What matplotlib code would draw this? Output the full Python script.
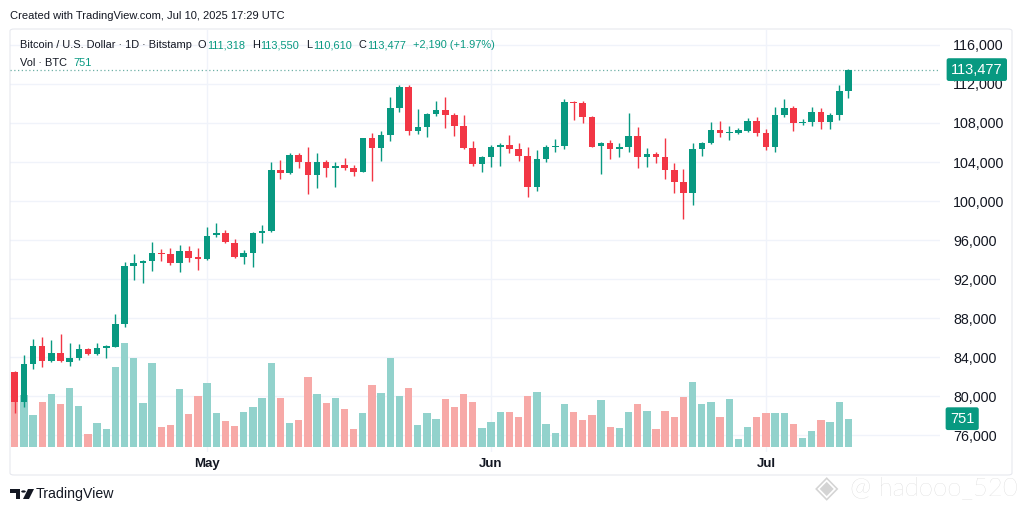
import matplotlib
matplotlib.use('Agg')
import matplotlib.pyplot as plt
import matplotlib.dates as mdates
import numpy as np
import pandas as pd
from matplotlib.transforms import blended_transform_factory as btf
from matplotlib.patches import FancyBboxPatch, Circle, Polygon

plt.rcParams['font.family'] = ['Liberation Sans', 'DejaVu Sans']

# ---------------- data (BTC/USD daily, Bitstamp) ----------------
start_date = '2025-04-10'
opens = [82490, 79420, 83280, 85130, 83620, 84440, 83520, 83930, 84790, 84310,
         84950, 85060, 87385, 93335, 93610, 93875, 94700, 94565, 93675, 94840,
         94200, 94020, 96480, 96750, 95725, 94225, 94640, 96690, 96925, 103180,
         102840, 104720, 103970, 102635, 103970, 103420, 103690, 103420, 103010, 106430,
         105465, 106770, 109510, 111660, 107180, 107620, 108920, 109330, 108820, 107690,
         105405, 103795, 104480, 105570, 105745, 105305, 104615, 101405, 104275, 105510,
         105640, 110185, 110050, 108585, 105640, 105980, 105370, 105510, 106665, 104480,
         104790, 104545, 103180, 101980, 100850, 105300, 105980, 107280, 107005, 107005,
         107210, 108235, 107005, 105510, 108820, 109510, 107970, 108130, 109100, 108130,
         108820, 111318]
highs = [82590, 84205, 85815, 86020, 85745, 86360, 85410, 85335, 84890, 85410,
         85200, 88380, 93775, 94565, 94000, 95800, 95110, 95150, 95485, 95360,
         95150, 97365, 97775, 97060, 96070, 94975, 96860, 97540, 104035, 104205,
         104890, 104890, 105570, 104890, 104205, 104035, 104440, 103700, 106500, 107005,
         107180, 110635, 111900, 111900, 109405, 109000, 110285, 110635, 109030, 108820,
         106185, 104600, 105745, 105900, 106770, 105915, 105570, 105230, 105700, 106330,
         110430, 110290, 110290, 108720, 106080, 106255, 106000, 108995, 107620, 105405,
         105060, 106430, 103870, 103250, 105980, 106100, 108130, 108235, 107690, 107450,
         108480, 108650, 107350, 109670, 110430, 109700, 108400, 109610, 109510, 109000,
         111900, 113550]
lows = [78290, 78905, 82740, 82945, 83500, 83450, 83080, 83740, 84200, 84200,
        83870, 85000, 87045, 91900, 91620, 92850, 93875, 93470, 92750, 93775,
        92925, 93900, 96300, 95700, 94120, 93510, 93265, 95725, 96800, 102230,
        102780, 103355, 100720, 101305, 102490, 101405, 103180, 102565, 102950, 102050,
        104135, 106155, 109160, 106770, 106840, 106595, 108720, 107455, 106665, 105300,
        103590, 103005, 103520, 103590, 104890, 104135, 100380, 101055, 104035, 105060,
        105300, 108310, 108030, 105500, 102770, 104275, 104480, 105060, 103355, 103460,
        103870, 102230, 100850, 98125, 99590, 104615, 105850, 106535, 106255, 106850,
        107100, 106665, 105230, 105060, 108585, 107210, 107800, 107690, 107350, 107350,
        108310, 110610]
closes = [79420, 83280, 85130, 83590, 84440, 83550, 83930, 84790, 84310, 84890,
          85130, 87355, 93335, 93610, 93875, 94640, 94550, 93675, 94905, 94150,
          94100, 96410, 96750, 95795, 94225, 94640, 96690, 96925, 103180, 102840,
          104720, 103970, 102635, 103970, 103420, 103620, 103355, 103010, 106430, 105465,
          106770, 109510, 111660, 107180, 107620, 108920, 109330, 108820, 107690, 105405,
          103795, 104480, 105570, 105745, 105335, 104615, 101470, 104275, 105510, 105640,
          110185, 110050, 108585, 105570, 105980, 105300, 105510, 106665, 104480, 104790,
          104545, 103180, 101980, 100850, 105300, 105980, 107280, 106940, 107110, 107280,
          108235, 107005, 105570, 108820, 109510, 107970, 108130, 109100, 108130, 108820,
          111287, 113477]
volumes = [1520, 1385, 850, 1206, 1404, 1144, 1565, 1099, 332, 643,
           474, 2144, 2787, 2369, 1179, 2243, 520, 582, 1546, 876,
           1367, 1715, 911, 697, 563, 938, 1056, 1313, 2251, 1313,
           627, 716, 1876, 1412, 1163, 1313, 1002, 474, 911, 1654,
           1439, 2385, 1359, 1565, 582, 911, 742, 1286, 1072, 1412,
           1206, 493, 654, 938, 938, 796, 1359, 1458, 608, 367,
           1144, 930, 716, 850, 1252, 520, 493, 930, 1144, 965,
           474, 965, 804, 1340, 1742, 1144, 1190, 796, 1270, 214,
           528, 804, 911, 911, 895, 608, 225, 429, 716, 662,
           1190, 751]
price_ticks = [76000, 80000, 84000, 88000, 92000, 96000, 100000, 104000, 108000, 112000, 116000]
month_ticks = ['2025-05-01', '2025-06-01', '2025-07-01']
month_labels = ['May', 'Jun', 'Jul']

# ---------------- style ----------------
UP = '#089981'
DN = '#f23645'
UPV = '#92d2cc'
DNV = '#f7a9a7'
TXT = '#131722'
GRID = '#f0f3fa'

W, H = 1024, 513
fig = plt.figure(figsize=(W / 100, H / 100), dpi=100)
fig.patch.set_facecolor('white')

L_, R_, T_, B_ = 10, 940, 30, 452
rect = [L_ / W, (H - B_) / H, (R_ - L_) / W, (B_ - T_) / H]
axv = fig.add_axes(rect, zorder=1)
ax = fig.add_axes(rect, zorder=2, sharex=axv)
ax.patch.set_alpha(0)

dates = pd.date_range(start_date, periods=len(closes), freq='D')
x = mdates.date2num(dates)
o = np.array(opens, float); h = np.array(highs, float)
l = np.array(lows, float); c = np.array(closes, float)
v = np.array(volumes, float)
up = c >= o

ax.set_ylim(74258, 117538)
axv.set_ylim(-142, 11168)
axv.set_xlim(x[0] - 0.513, x[0] + 101.0)

# grid beneath volume
for p in price_ticks:
    axv.plot([0, 1], [p, p], transform=btf(axv.transAxes, ax.transData),
             color=GRID, lw=1, zorder=0)
mt = mdates.date2num(pd.to_datetime(month_ticks))
for m in mt:
    axv.axvline(m, color=GRID, lw=1, zorder=0)

# volume
axv.bar(x, v, width=0.8, color=np.where(up, UPV, DNV), zorder=1, linewidth=0)

# candles
cols = np.where(up, UP, DN)
ax.vlines(x, l, h, colors=cols, lw=1, zorder=3)
body_bottom = np.minimum(o, c)
body_h = np.maximum(np.abs(c - o), 110)
ax.bar(x, body_h, bottom=body_bottom, width=0.72, color=cols, zorder=4, linewidth=0)

# last-price dotted line
last = closes[-1]
ax.axhline(last, color='#6fb0a6', lw=0.9, ls=(0, (1, 2)), zorder=2)

# axes cosmetics
for a in (ax, axv):
    for s in a.spines.values():
        s.set_visible(False)
axv.set_yticks([])
axv.tick_params(axis='x', which='both', length=0, labelbottom=False)
ax.yaxis.tick_right()
ax.set_yticks(price_ticks)
ax.set_yticklabels([f'{p:,}' for p in price_ticks])
ax.tick_params(axis='y', length=0, pad=9.5, labelsize=10.3, labelcolor=TXT)
ax.set_xticks(mt)
ax.set_xticklabels(month_labels, fontweight='bold')
ax.tick_params(axis='x', length=0, pad=4, labelsize=9.5, labelcolor=TXT)

# price label box and volume label box
box = dict(boxstyle='round,pad=0.3,rounding_size=0.15', fc=UP, ec='none')
ax.text(1.0 + 11 / 930, last, f'{last:,}', transform=btf(ax.transAxes, ax.transData),
        ha='left', va='center', color='white', fontsize=10.5, zorder=20, clip_on=False, bbox=box)
axv.text(1.0 + 10 / 930, volumes[-1], f'{volumes[-1]}', transform=btf(axv.transAxes, axv.transData),
         ha='left', va='center', color='white', fontsize=10.5, zorder=20, clip_on=False, bbox=box)

# panel border
fig.patches.append(FancyBboxPatch((10 / W, (H - 475) / H), 1002 / W, 446 / H,
                                  boxstyle='round,pad=0,rounding_size=0.004',
                                  transform=fig.transFigure, fc='none', ec='#e6e8ee', lw=0.8))

def ftext(xp, yp, s, **kw):
    kw.setdefault('va', 'center')
    return fig.text(xp / W, 1 - yp / H, s, **kw)

ftext(10, 16, 'Created with TradingView.com, Jul 10, 2025 17:29 UTC', fontsize=8.0, color=TXT)

# legend lines laid out left to right
renderer = fig.canvas.get_renderer()
chg = closes[-1] - closes[-2]
pct = chg / closes[-2] * 100
seg1 = [('Bitcoin / U.S. Dollar · 1D · Bitstamp', TXT, 6),
        ('O', TXT, 0.5), (f'{opens[-1]:,}', UP, 7),
        ('H', TXT, 0.5), (f'{highs[-1]:,}', UP, 7),
        ('L', TXT, 0.5), (f'{lows[-1]:,}', UP, 7),
        ('C', TXT, 0.5), (f'{closes[-1]:,}', UP, 7),
        (f'+{chg:,} (+{pct:.2f}%)', UP, 0)]
def lay(segs, xp, yp, fs):
    for s, col, gap in segs:
        t = ftext(xp, yp, s, fontsize=fs, color=col)
        wpx = t.get_window_extent(renderer).width
        xp += wpx + gap
lay(seg1, 20, 45, 7.9)
lay([('Vol · BTC', TXT, 6), (f'{volumes[-1]}', UP, 0)], 20, 63, 7.9)

# TradingView logo
def px(xp, yp):
    return (xp / W, 1 - yp / H)
logo = TXT
fig.patches.append(Polygon([px(10, 489), px(20, 489), px(20, 499), px(16, 499), px(16, 493), px(10, 493)],
                           closed=True, transform=fig.transFigure, fc=logo, ec='none'))
fig.patches.append(Circle(px(23.5, 491.5), 2.3 / W, transform=fig.transFigure, fc=logo, ec='none'))
fig.patches.append(Polygon([px(28, 489), px(34, 489), px(29, 499), px(23, 499)],
                           closed=True, transform=fig.transFigure, fc=logo, ec='none'))
ftext(36, 494, 'TradingView', fontsize=10.2, color=TXT)

# watermark
ftext(815, 489, '◈', fontsize=22, color='#d4d4d4', family=['DejaVu Sans'])
ftext(850, 488, '@ hadooo_520', fontsize=18.5, color='#cfcfcf', family=['Lato', 'DejaVu Sans'], fontweight='light')

fig.savefig('out.png', dpi=100, facecolor='white')
